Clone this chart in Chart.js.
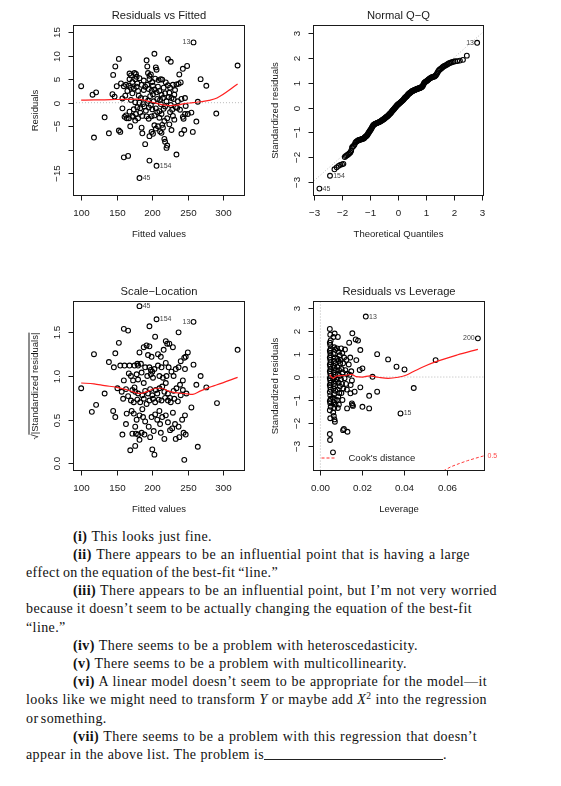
<!DOCTYPE html>
<html><head><meta charset="utf-8">
<script src="https://cdn.jsdelivr.net/npm/chart.js@4.4.1/dist/chart.umd.min.js"></script>
<style>
html,body{margin:0;padding:0;background:#fff;width:561px;height:786px;overflow:hidden;position:relative}
canvas{position:absolute}
.ln{position:absolute;white-space:nowrap;font-family:"Liberation Serif","Times New Roman",serif;font-size:14px;letter-spacing:0.4px;line-height:18px;color:#111}
.ln sup{font-size:9.5px;line-height:0;vertical-align:5px}
.blank{display:inline-block;width:179px;height:10px;border-bottom:1px solid #222;vertical-align:baseline;margin-bottom:-1px}
</style></head><body>
<canvas id="c1" width="280" height="250" style="left:0;top:0"></canvas>
<canvas id="c2" width="321" height="250" style="left:240px;top:0"></canvas>
<canvas id="c3" width="280" height="250" style="left:0;top:276px"></canvas>
<canvas id="c4" width="321" height="250" style="left:240px;top:276px"></canvas>
<div id="txt"></div>
<script>
// ---------------- DATA ----------------
// Residuals vs Fitted: [fitted, residual]
const rvfPoints = [
[100,3.5],[116,1.7],[121,2.2],[118,-7.4],[133,-3.1],[139,-6.5],[145,5.9],[148,7.7],[153,9.3],[150,3.5],[144,1.8],[147,1.3],[156,4.1],[153,-5.9],[155,-6.2],[160,-11.6],[166,-11.3],[169,-5.0],[158,-1.2],[161,-3.0],[164,-3.3],
[168,6.2],[170,5.8],[175,6.3],[177,6.1],[178,5.5],[176,5.0],[168,5.0],[172,4.4],[163,3.8],[160,3.5],[167,3.6],[170,3.2],[174,3.0],[178,3.4],[182,5.2],[180,2.5],[172,2.0],[165,2.5],[162,1.5],[158,0.9],[170,0.6],[176,0.1],[181,1.5],[184,1.0],[187,-0.3],[179,-1.0],[174,-1.4],[168,-1.9],[163,-2.7],[172,-2.8],[177,-2.4],[183,-2.1],[186,-2.8],[180,-3.3],[185,-5.3],[186,-6.5],[190,-8.8],[173,-3.0],[167,-3.3],[176,-3.8],
[192,9.0],[193,7.7],[194,6.3],[196,5.7],[198,6.0],[196,5.0],[200,4.4],[193,3.8],[190,3.4],[195,2.9],[199,2.5],[203,10.4],[205,7.5],[206,7.0],[204,5.1],[209,4.8],[212,5.0],[214,4.9],[208,3.4],[203,2.8],[206,2.2],[210,2.5],[213,1.7],[216,3.2],[211,0.6],[202,0.3],[198,-0.5],[195,-1.0],[191,-1.7],[189,-0.8],[200,-1.4],[205,-1.2],[207,-2.0],[203,-2.7],[199,-2.9],[192,-2.9],[195,-3.4],[210,-3.2],[213,-2.4],[216,-1.3],[218,-0.8],[220,0.3],[217,-3.9],[214,-4.7],[208,-5.0],[205,-5.5],[203,-4.8],[199,-6.2],[196,-7.1],[201,-6.6],[211,-6.1],[213,-6.4],[217,-7.7],[218,-8.3],[221,-9.1],[220,-9.6],[196,-12.3],[206,-13.4],[182,-16.0],
[222,9.3],[226,8.7],[219,4.3],[222,3.7],[225,3.2],[229,3.8],[232,2.7],[224,2.1],[227,1.0],[230,0.8],[233,-0.9],[236,0.3],[228,-1.5],[225,-2.0],[229,-2.8],[226,-0.5],[221,-3.3],[224,-4.6],[227,-5.8],[231,-3.6],[235,-1.1],[234,3.9],[238,6.0],[237,4.0],[240,4.3],[243,7.2],[247,-0.7],[246,1.0],[241,0.8],[244,-3.4],[245,-5.8],[241,-6.6],[243,-3.0],[246,-2.4],[234,-11.0],[249,7.8],[250,-2.4],[255,-2.1],[257,-6.2],[262,-4.0],[258,12.8],[264,0.2],[268,5.0],[276,3.6],[290,-2.3],[320,7.9],
[185,3.8],[188,2.7],[182,0.0],[190,0.9],[194,0.4],[197,1.4],[201,1.8],[207,0.8],[212,-0.3],[215,1.0],[218,2.0],[223,1.2],[231,1.7],[239,-1.5],[188,4.7],[179,4.1],[183,-1.2],[201,3.6],[215,-5.3],[210,-1.8]
];
const rvfSmooth = [[100,0.55],[118,0.58],[133,0.62],[150,0.68],[165,0.72],[178,0.74],[188,0.55],[196,0.25],[205,-0.1],[215,-0.45],[225,-0.6],[235,-0.5],[245,-0.2],[257,0.0],[268,0.2],[280,0.5],[291,1.0],[320,3.95]];
const rvfZero = [[80,0],[340,0]];
const rvfIds = [[258,12.8,'13','l'],[206,-13.4,'154','r'],[182,-16.0,'45','r']];
const rvfXTicks = [100,150,200,250,300];
const rvfXLabels = ['100','150','200','250','300'];
const rvfYTicks = [-15,-10,-5,0,5,10,15];
const rvfYLabels = ['\u221215','','\u22125','0','5','10','15'];

// Normal Q-Q: [theoretical quantile, standardized residual]
const qqPoints = [
[-2.82,-3.28],[-2.44,-2.76],[-2.28,-2.5],[-2.2,-2.42],[-2.13,-2.36],[-2.07,-2.32],[-2.01,-2.3],[-1.96,-2.28],[-1.91,-2.0],[-1.87,-1.96],[-1.83,-1.93],[-1.79,-1.9],[-1.75,-1.86],[-1.71,-1.82],[-1.68,-1.75],[-1.65,-1.62],[-1.62,-1.58],[-1.59,-1.55],[-1.56,-1.5],[-1.53,-1.42],[-1.5,-1.38],[-1.47,-1.36],[-1.44,-1.33],[-1.41,-1.32],[-1.39,-1.31],[-1.36,-1.3],[-1.33,-1.29],[-1.31,-1.28],[-1.28,-1.27],[-1.26,-1.26],[-1.23,-1.25],[-1.21,-1.23],[-1.19,-1.2],[-1.17,-1.18],[-1.14,-1.16],[-1.12,-1.13],[-1.1,-1.11],[-1.08,-1.07],[-1.06,-1.03],[-1.04,-1.0],[-1.02,-0.96],[-1.0,-0.93],[-0.98,-0.9],[-0.96,-0.86],[-0.94,-0.82],[-0.92,-0.78],[-0.9,-0.74],[-0.88,-0.71],[-0.86,-0.69],[-0.84,-0.67],[-0.82,-0.66],[-0.8,-0.65],[-0.78,-0.64],[-0.76,-0.63],[-0.74,-0.62],[-0.72,-0.61],[-0.7,-0.6],[-0.68,-0.59],[-0.66,-0.58],[-0.64,-0.57],[-0.62,-0.55],[-0.6,-0.54],[-0.58,-0.52],[-0.56,-0.5],[-0.54,-0.49],[-0.52,-0.47],[-0.5,-0.46],[-0.48,-0.44],[-0.46,-0.42],[-0.44,-0.4],[-0.42,-0.38],[-0.4,-0.37],[-0.38,-0.35],[-0.36,-0.33],[-0.34,-0.31],[-0.32,-0.28],[-0.3,-0.26],[-0.28,-0.24],[-0.26,-0.22],[-0.24,-0.19],[-0.22,-0.16],[-0.2,-0.13],[-0.18,-0.11],[-0.16,-0.08],[-0.14,-0.06],[-0.12,-0.03],[-0.1,0.0],[-0.08,0.02],[-0.06,0.05],[-0.04,0.08],[-0.02,0.1],[0.0,0.12],[0.02,0.14],[0.04,0.16],[0.06,0.18],[0.08,0.2],[0.1,0.22],[0.12,0.24],[0.14,0.26],[0.16,0.28],[0.18,0.3],[0.2,0.33],[0.22,0.36],[0.24,0.39],[0.26,0.41],[0.28,0.43],[0.3,0.45],[0.32,0.47],[0.34,0.5],[0.36,0.53],[0.38,0.55],[0.4,0.57],[0.42,0.59],[0.44,0.6],[0.46,0.62],[0.48,0.64],[0.5,0.66],[0.52,0.67],[0.54,0.68],[0.56,0.69],[0.58,0.7],[0.6,0.71],[0.62,0.72],[0.64,0.73],[0.66,0.74],[0.68,0.75],[0.7,0.76],[0.72,0.77],[0.74,0.77],[0.76,0.78],[0.78,0.79],[0.8,0.8],[0.82,0.81],[0.84,0.82],[0.86,0.84],[0.88,0.86],[0.9,0.9],[0.92,0.95],[0.94,0.99],[0.96,1.02],[0.98,1.04],[1.0,1.05],[1.02,1.07],[1.04,1.08],[1.06,1.1],[1.08,1.12],[1.1,1.14],[1.12,1.16],[1.15,1.18],[1.17,1.2],[1.2,1.22],[1.22,1.23],[1.25,1.24],[1.28,1.25],[1.31,1.26],[1.33,1.28],[1.36,1.31],[1.39,1.36],[1.42,1.42],[1.45,1.48],[1.48,1.52],[1.51,1.55],[1.55,1.58],[1.59,1.62],[1.62,1.65],[1.66,1.68],[1.7,1.7],[1.75,1.73],[1.79,1.76],[1.83,1.79],[1.88,1.81],[1.93,1.83],[1.99,1.85],[2.05,1.87],[2.13,1.88],[2.22,1.9],[2.33,1.93],[2.47,2.1],[2.84,2.62]
];
const qqLine = [[-3.1,-3.05],[3.1,3.1]];
const qqIds = [[2.84,2.62,'13','l'],[-2.44,-2.76,'154','r'],[-2.82,-3.28,'45','r']];
const qqXTicks = [-3,-2,-1,0,1,2,3];
const qqXLabels = ['\u22123','\u22122','\u22121','0','1','2','3'];
const qqYTicks = [-3,-2,-1,0,1,2,3];
const qqYLabels = ['\u22123','\u22122','\u22121','0','1','2','3'];

// Scale-Location: [fitted, sqrt|std residual|]
const slPoints = [
[182,1.80],[206,1.65],[258,1.62],
[160,1.54],[166,1.52],[196,1.57],[237,1.50],[204,1.45],[153,1.38],[192,1.35],[188,1.33],[196,1.34],[219,1.40],[221,1.37],[224,1.37],[229,1.33],[216,1.30],[250,1.27],[245,1.21],[247,1.22],[320,1.30],[118,1.25],[148,1.26],[182,1.27],[194,1.24],[199,1.22],[208,1.25],[212,1.22],[240,1.17],[139,1.16],[155,1.12],[146,1.10],[168,1.12],[175,1.12],[179,1.14],[180,1.12],[184,1.14],[190,1.10],[196,1.10],[198,1.07],[200,1.05],[203,1.08],[208,1.12],[213,1.10],[219,1.15],[223,1.10],[227,1.05],[233,1.08],[237,1.10],[246,1.08],[258,1.13],[167,1.03],[170,1.0],[178,1.02],[185,1.04],[193,1.0],[198,1.02],[201,0.98],[210,1.0],[215,0.98],[220,1.0],[230,1.0],[268,1.0],[276,0.87],[262,0.90],
[100,0.86],[133,0.80],[151,0.86],[157,0.82],[163,0.85],[172,0.84],[175,0.87],[176,0.82],[180,0.80],[186,0.78],[190,0.83],[194,0.80],[197,0.85],[200,0.78],[205,0.84],[207,0.80],[210,0.86],[214,0.88],[217,0.82],[222,0.80],[225,0.75],[230,0.83],[234,0.86],[239,0.90],[243,0.84],[248,0.80],[159,0.74],[166,0.77],[170,0.72],[174,0.70],[179,0.73],[183,0.70],[188,0.74],[192,0.68],[196,0.72],[201,0.74],[204,0.70],[209,0.73],[213,0.72],[218,0.75],[222,0.72],[226,0.70],[231,0.74],[236,0.71],[240,0.78],
[115,0.59],[121,0.67],[145,0.60],[148,0.53],[164,0.57],[163,0.45],[171,0.60],[174,0.57],[178,0.50],[182,0.55],[187,0.53],[190,0.48],[195,0.42],[199,0.53],[204,0.56],[207,0.50],[211,0.45],[214,0.53],[219,0.55],[222,0.47],[228,0.40],[232,0.45],[237,0.42],[242,0.50],[255,0.64],[291,0.69],[158,0.33],[172,0.34],[177,0.34],[180,0.33],[176,0.42],[185,0.35],[189,0.33],[197,0.30],[202,0.37],[212,0.35],[217,0.28],[225,0.38],[233,0.28],[238,0.30],[244,0.35],[247,0.33],[176,0.20],[169,0.15],[200,0.16],[203,0.10],[245,0.04],[264,0.19],[182,0.27],[210,0.60],[229,0.58],[186,0.62],[243,0.95],[188,0.92],[173,0.95],[219,0.92],[160,0.95],[180,0.96],[161,1.12],[246,0.55]
];
const slSmooth = [[100,0.92],[118,0.91],[133,0.89],[150,0.87],[165,0.84],[183,0.8],[195,0.83],[205,0.86],[213,0.86],[222,0.83],[232,0.81],[245,0.8],[257,0.79],[268,0.83],[280,0.87],[291,0.9],[320,0.985]];
const slIds = [[182,1.80,'45','r'],[206,1.65,'154','r'],[258,1.62,'13','l']];
const slXTicks = [100,150,200,250,300];
const slXLabels = ['100','150','200','250','300'];
const slYTicks = [0,0.5,1,1.5];
const slYLabels = ['0.0','0.5','1.0','1.5'];

// Residuals vs Leverage: [leverage, std residual]
const rvlPoints = [
[0.0045,2.1],[0.0047,1.85],[0.0049,1.6],[0.0045,1.5],[0.0047,1.4],[0.0049,1.25],[0.0045,1.15],[0.0047,1.05],[0.0049,0.95],[0.0045,0.85],[0.0047,0.75],[0.0049,0.65],[0.0045,0.55],[0.0047,0.45],[0.0049,0.35],[0.0045,0.25],[0.0047,0.15],[0.0049,0.05],[0.0045,-0.05],[0.0047,-0.15],[0.0049,-0.25],[0.0045,-0.35],[0.0047,-0.45],[0.0049,-0.55],[0.0045,-0.65],[0.0047,-0.8],[0.0049,-0.95],[0.0045,-1.05],[0.0047,-1.15],[0.0049,-1.3],[0.0045,-1.45],[0.0047,-1.8],[0.0045,-2.49],[0.0046,-2.75],
[0.0068,1.9],[0.0062,1.75],[0.0066,1.3],[0.0071,1.2],[0.0063,1.0],[0.0069,0.85],[0.0065,0.7],[0.0072,0.6],[0.0061,0.5],[0.0067,0.4],[0.0074,0.3],[0.0063,0.2],[0.0070,0.1],[0.0066,0.0],[0.0061,-0.1],[0.0073,-0.2],[0.0064,-0.3],[0.0069,-0.4],[0.0062,-0.5],[0.0071,-0.6],[0.0065,-0.75],[0.0060,-0.9],[0.0068,-1.0],[0.0063,-1.1],[0.0072,-1.2],[0.0066,-1.35],[0.0061,-1.55],[0.0064,-1.7],[0.0067,-1.85],[0.0069,-1.95],[0.0060,-3.29],
[0.0083,1.75],[0.0079,1.25],[0.0088,1.1],[0.0092,0.95],[0.0081,0.8],[0.0086,0.7],[0.0094,0.6],[0.0080,0.45],[0.0089,0.3],[0.0084,0.15],[0.0091,0.05],[0.0078,-0.1],[0.0087,-0.25],[0.0093,-0.4],[0.0082,-0.55],[0.0090,-0.7],[0.0085,-0.85],[0.0079,-1.0],[0.0088,-1.2],[0.0083,-1.35],
[0.0099,1.25],[0.0104,1.05],[0.0097,0.75],[0.0108,0.6],[0.0101,0.35],[0.0106,0.2],[0.0098,-0.1],[0.0103,-0.3],[0.0109,-0.5],[0.0100,-0.7],[0.0105,-1.0],[0.0108,-2.32],[0.0112,-2.27],
[0.0117,1.2],[0.0113,0.85],[0.0124,0.75],[0.0119,0.3],[0.0127,0.15],[0.0115,-0.05],[0.0122,-0.3],[0.0126,-0.55],[0.0127,-1.37],[0.0129,-2.39],
[0.0137,1.5],[0.0152,1.91],[0.0142,0.85],[0.0135,0.55],[0.0147,0.25],[0.0139,0.1],[0.0150,-0.15],[0.0144,-0.35],[0.0163,-0.64],[0.0143,-0.71],[0.0150,-1.15],[0.0152,-1.22],[0.0155,-1.26],
[0.0168,1.64],[0.0179,1.59],[0.0171,0.74],[0.0187,0.31],[0.0200,0.38],[0.0190,1.18],[0.0190,-0.45],[0.0200,-1.3],[0.0232,-1.37],[0.0232,-0.82],[0.0216,2.64],[0.0248,0.01],[0.0270,1.0],[0.0270,-0.64],[0.0322,0.77],[0.0362,0.45],[0.0400,0.33],[0.0444,-0.48],[0.0548,0.74],[0.0381,-1.59],[0.0749,1.69]
];
const rvlSmooth = [[0.0044,0.1],[0.006,-0.05],[0.008,0.05],[0.0105,0.06],[0.0124,0.08],[0.0148,0.12],[0.017,0.02],[0.02,0.0],[0.0235,0.05],[0.0275,-0.01],[0.0322,-0.06],[0.037,-0.01],[0.041,0.09],[0.044,0.23],[0.049,0.45],[0.055,0.67],[0.065,0.96],[0.0749,1.21]];
const rvlCook = [[0.0585,-4.1],[0.0620,-3.92],[0.0660,-3.78],[0.0700,-3.65],[0.0740,-3.54],[0.0778,-3.44]];
const rvlHZero = [[-0.01,0],[0.09,0]];
const rvlVZero = [[0,-5],[0,4]];
const rvlIds = [[0.0216,2.64,'13','r'],[0.0749,1.69,'200','l'],[0.0381,-1.59,'15','r']];
const rvlXTicks = [0,0.02,0.04,0.06];
const rvlXLabels = ['0.00','0.02','0.04','0.06'];
const rvlYTicks = [-3,-2,-1,0,1,2,3];
const rvlYLabels = ['\u22123','\u22122','\u22121','0','1','2','3'];

// ---------------- DRAWING ----------------
const SANS = '"Liberation Sans", Arial, Helvetica, sans-serif';
const TXT = '#1a1a1a';
const rAxes = {
  id: 'rAxes',
  afterDraw(chart, args, o) {
    const ctx = chart.ctx, a = chart.chartArea, xs = chart.scales.x, ys = chart.scales.y;
    ctx.save();
    ctx.strokeStyle = TXT; ctx.fillStyle = TXT; ctx.lineWidth = 1;
    const L = Math.round(a.left) + 0.5, T = Math.round(a.top) + 0.5, R = Math.round(a.right) + 0.5, B = Math.round(a.bottom) + 0.5;
    ctx.strokeRect(L, T, R - L, B - T);
    ctx.font = '9.8px ' + SANS; ctx.textAlign = 'center'; ctx.textBaseline = 'middle';
    o.xTicks.forEach((v, i) => {
      const px = Math.round(xs.getPixelForValue(v)) + 0.5;
      ctx.beginPath(); ctx.moveTo(px, B); ctx.lineTo(px, B + 5); ctx.stroke();
      ctx.fillText(o.xLabels[i], px, B + 18);
    });
    o.yTicks.forEach((v, i) => {
      const py = Math.round(ys.getPixelForValue(v)) + 0.5;
      ctx.beginPath(); ctx.moveTo(L, py); ctx.lineTo(L - 5, py); ctx.stroke();
      if (o.yLabels[i]) {
        ctx.save(); ctx.translate(L - 16, py); ctx.rotate(-Math.PI / 2);
        ctx.fillText(o.yLabels[i], 0, 0); ctx.restore();
      }
    });
    ctx.font = '11.2px ' + SANS;
    ctx.fillText(o.title, (L + R) / 2, T - 9.5);
    ctx.font = '9.5px ' + SANS;
    ctx.fillText(o.xTitle, (L + R) / 2, B + 39);
    ctx.save(); ctx.translate(L - 38, (T + B) / 2); ctx.rotate(-Math.PI / 2);
    if (o.sqrtY) {
      const body = '|Standardized residuals|';
      const w0 = ctx.measureText('\u221A').width, w1 = ctx.measureText(body).width;
      const x0 = -(w0 + w1) / 2;
      ctx.textAlign = 'left';
      ctx.fillText('\u221A', x0, 0);
      ctx.fillText(body, x0 + w0, 0);
      ctx.beginPath(); ctx.moveTo(x0 + w0 - 0.5, -6.5); ctx.lineTo(x0 + w0 + w1, -6.5); ctx.stroke();
    } else {
      ctx.fillText(o.yTitle, 0, 0);
    }
    ctx.restore();
    ctx.font = '7px ' + SANS; ctx.fillStyle = '#444';
    o.ids.forEach(d => {
      const px = xs.getPixelForValue(d[0]), py = ys.getPixelForValue(d[1]);
      if (d[3] === 'l') { ctx.textAlign = 'right'; ctx.fillText(d[2], px - 3.2, py); }
      else { ctx.textAlign = 'left'; ctx.fillText(d[2], px + 3.2, py); }
    });
    if (o.cook) {
      const yy = B - 12.5;
      ctx.strokeStyle = '#ff2a2a'; ctx.setLineDash([3, 2]);
      ctx.beginPath(); ctx.moveTo(L + 8, yy); ctx.lineTo(L + 22, yy); ctx.stroke();
      ctx.setLineDash([]);
      ctx.fillStyle = TXT; ctx.font = '9.5px ' + SANS; ctx.textAlign = 'left';
      ctx.fillText("Cook's distance", L + 35, yy);
      const last = o.cook[o.cook.length - 1];
      ctx.fillStyle = '#ff4a4a'; ctx.font = '7px ' + SANS;
      ctx.fillText('0.5', R + 3, ys.getPixelForValue(last[1]));
    }
    ctx.restore();
  }
};

function pts(arr) { return arr.map(p => ({ x: p[0], y: p[1] })); }
function ptSet(arr) {
  return { data: pts(arr), showLine: false, pointRadius: 2.4, pointBorderWidth: 1.1,
    borderColor: '#000', pointBorderColor: '#000', backgroundColor: 'rgba(0,0,0,0)', pointBackgroundColor: 'rgba(0,0,0,0)' };
}
function lineSet(arr, color, dash, width, smooth) {
  return { data: pts(arr), showLine: true, pointRadius: 0, borderColor: color, borderWidth: width,
    borderDash: dash, cubicInterpolationMode: smooth ? 'monotone' : 'default', tension: 0, fill: false };
}
function makeChart(id, datasets, pad, xr, yr, axes) {
  return new Chart(document.getElementById(id), {
    type: 'scatter',
    data: { datasets },
    options: {
      responsive: false, animation: false, events: [],
      layout: { padding: pad },
      scales: {
        x: { type: 'linear', display: false, min: xr[0], max: xr[1] },
        y: { type: 'linear', display: false, min: yr[0], max: yr[1] }
      },
      plugins: { legend: { display: false }, tooltip: { enabled: false }, rAxes: axes }
    },
    plugins: [rAxes]
  });
}
const RED = '#ff1f1f', GRAY = '#b8b8b8';

makeChart('c1', [
  lineSet(rvfSmooth, RED, [], 1.2, true),
  ptSet(rvfPoints),
  lineSet(rvfZero, GRAY, [1, 2], 1, false)
], { left: 73, right: 36, top: 25, bottom: 55 }, [88.5, 329], [-19.6, 16.5],
{ xTicks: rvfXTicks, xLabels: rvfXLabels, yTicks: rvfYTicks, yLabels: rvfYLabels,
  title: 'Residuals vs Fitted', xTitle: 'Fitted values', yTitle: 'Residuals', ids: rvfIds });

makeChart('c2', [
  ptSet(qqPoints),
  lineSet(qqLine, GRAY, [1, 2], 1, false)
], { left: 73, right: 78, top: 25, bottom: 55 }, [-3.05, 3.05], [-3.54, 3.34],
{ xTicks: qqXTicks, xLabels: qqXLabels, yTicks: qqYTicks, yLabels: qqYLabels,
  title: 'Normal Q\u2212Q', xTitle: 'Theoretical Quantiles', yTitle: 'Standardized residuals', ids: qqIds });

makeChart('c3', [
  lineSet(slSmooth, RED, [], 1.2, true),
  ptSet(slPoints)
], { left: 73, right: 36, top: 25, bottom: 56 }, [88.5, 329], [-0.076, 1.859],
{ xTicks: slXTicks, xLabels: slXLabels, yTicks: slYTicks, yLabels: slYLabels,
  title: 'Scale\u2212Location', xTitle: 'Fitted values', yTitle: '', sqrtY: true, ids: slIds });

makeChart('c4', [
  lineSet(rvlSmooth, RED, [], 1.2, true),
  lineSet(rvlCook, '#ff3a3a', [3, 2], 1, false),
  ptSet(rvlPoints),
  lineSet(rvlHZero, GRAY, [1, 2], 1, false),
  lineSet(rvlVZero, GRAY, [1, 2], 1, false)
], { left: 73, right: 77, top: 25, bottom: 56 }, [-0.0035, 0.0778], [-4.06, 3.32],
{ xTicks: rvlXTicks, xLabels: rvlXLabels, yTicks: rvlYTicks, yLabels: rvlYLabels,
  title: 'Residuals vs Leverage', xTitle: 'Leverage', yTitle: 'Standardized residuals', ids: rvlIds, cook: rvlCook });

// ---------------- TEXT ----------------
const textLines = [
 [1,'<b>(i)</b> This looks just fine.',212],
 [1,'<b>(ii)</b> There appears to be an influential point that is having a large',470],
 [0,'effect on the equation of the best-fit \u201Cline.\u201D',278],
 [1,'<b>(iii)</b> There appears to be an influential point, but I\u2019m not very worried',497],
 [0,'because it doesn\u2019t seem to be actually changing the equation of the best-fit',472],
 [0,'\u201Cline.\u201D',56],
 [1,'<b>(iv)</b> There seems to be a problem with heteroscedasticity.',418],
 [1,'<b>(v)</b> There seems to be a problem with multicollinearity.',407],
 [1,'<b>(vi)</b> A linear model doesn\u2019t seem to be appropriate for the model\u2014it',487],
 [0,'looks like we might need to transform <i>Y</i> or maybe add <i>X</i><sup>2</sup> into the regression',487],
 [0,'or something.',104],
 [1,'<b>(vii)</b> There seems to be a problem with this regression that doesn\u2019t',477],
 [0,'appear in the above list. The problem is<span class="blank"></span>.',447]
];
const box = document.getElementById('txt');
const els = textLines.map((t, i) => {
  const d = document.createElement('div');
  d.className = 'ln';
  const left = t[0] ? 73 : 26;
  d.style.left = left + 'px';
  d.style.top = (527.5 + i * 18.2) + 'px';
  d.innerHTML = t[1];
  box.appendChild(d);
  return [d, left, t[2]];
});
function fit() {
  els.forEach(([d, left, right]) => {
    d.style.wordSpacing = '0px';
    const w = d.getBoundingClientRect().width;
    const n = (d.textContent.match(/ /g) || []).length;
    if (n > 0) {
      let ws = (right - left - w) / n;
      ws = Math.max(-1.5, Math.min(4, ws));
      d.style.wordSpacing = ws.toFixed(2) + 'px';
    }
  });
}
fit();
if (document.fonts && document.fonts.ready) document.fonts.ready.then(fit);
</script>
</body></html>
